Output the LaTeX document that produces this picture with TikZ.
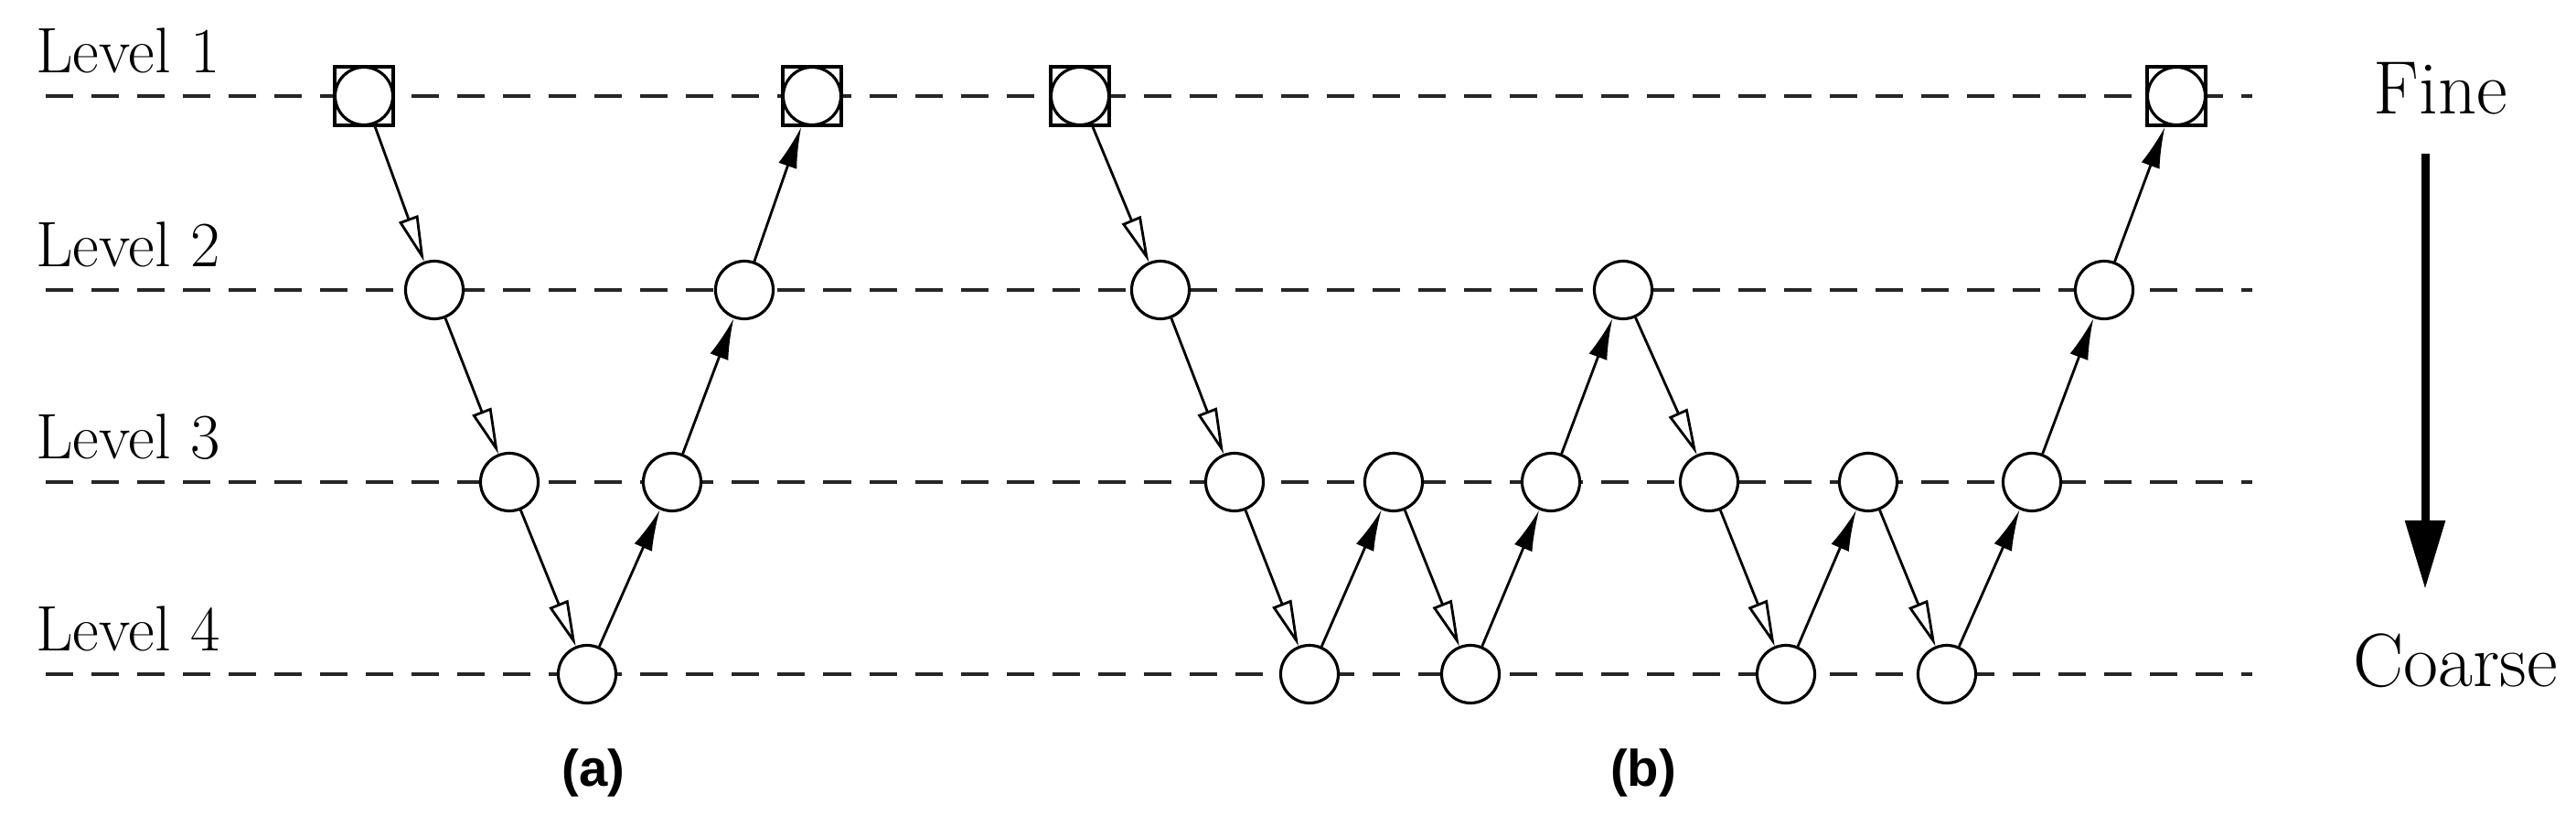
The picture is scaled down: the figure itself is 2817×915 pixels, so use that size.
\documentclass[tikz,border=0pt]{standalone}
\usepackage{fontspec}
\newfontfamily\hv{Liberation Sans}
\usetikzlibrary{arrows.meta}
\begin{document}
\begin{tikzpicture}[x=0.01cm,y=-0.01cm,
  lev/.style={dash pattern=on 0.3cm off 0.2cm, line width=1pt, draw=black!85},
  cir/.style={circle,draw,line width=0.9pt,minimum size=0.63cm,inner sep=0pt,fill=white},
  sq/.style={rectangle,draw,line width=1pt,minimum size=0.64cm,inner sep=0pt,fill=white},
  dn/.style={line width=0.8pt,-{Triangle[open,length=0.5cm,width=0.22cm]}},
  up/.style={line width=0.8pt,-{Latex[length=0.45cm,width=0.21cm]}},
  lbl/.style={font=\fontsize{20}{24}\selectfont,anchor=base west},
  big/.style={font=\fontsize{23.5}{28}\selectfont,anchor=base}]
\useasboundingbox (0,0) rectangle (2817,915);
% levels
\foreach \y/\b/\n in {105/79/1,317/291/2,527/501/3,737/711/4}{
  \coordinate (s\n) at (50,\y); \coordinate (e\n) at (2463,\y);
  \draw[lev] (s\n) -- (e\n);
  \node[lbl] (L\n) at (27,\b) {Level \n};
}
% (a)
\node[sq] (a1) at (398,105) {}; \node[cir] (a1c) at (a1) {};
\node[cir] (a2) at (475,317) {};
\node[cir] (a3) at (557,527) {};
\node[cir] (a4) at (642,737) {};
\node[cir] (a5) at (735,527) {};
\node[cir] (a6) at (814,317) {};
\node[sq] (a7) at (888,105) {}; \node[cir] (a7c) at (a7) {};
\draw[dn] (a1) -- (a2); \draw[dn] (a2) -- (a3); \draw[dn] (a3) -- (a4);
\draw[up] (a4) -- (a5); \draw[up] (a5) -- (a6); \draw[up] (a6) -- (a7);
% (b)
\node[sq] (b1) at (1181,105) {}; \node[cir] (b1c) at (b1) {};
\node[cir] (b2) at (1269,317) {};
\node[cir] (b3) at (1350,527) {};
\node[cir] (b4) at (1432,737) {};
\node[cir] (b5) at (1524,527) {};
\node[cir] (b6) at (1608,737) {};
\node[cir] (b7) at (1696,527) {};
\node[cir] (b8) at (1775,317) {};
\node[cir] (b9) at (1869,527) {};
\node[cir] (b10) at (1953,737) {};
\node[cir] (b11) at (2043,527) {};
\node[cir] (b12) at (2129,737) {};
\node[cir] (b13) at (2222,527) {};
\node[cir] (b14) at (2301,317) {};
\node[sq] (b15) at (2380,105) {}; \node[cir] (b15c) at (b15) {};
\draw[dn] (b1) -- (b2); \draw[dn] (b2) -- (b3); \draw[dn] (b3) -- (b4);
\draw[up] (b4) -- (b5); \draw[dn] (b5) -- (b6); \draw[up] (b6) -- (b7);
\draw[up] (b7) -- (b8); \draw[dn] (b8) -- (b9); \draw[dn] (b9) -- (b10);
\draw[up] (b10) -- (b11); \draw[dn] (b11) -- (b12); \draw[up] (b12) -- (b13);
\draw[up] (b13) -- (b14); \draw[up] (b14) -- (b15);
% captions
\node[font=\hv\bfseries\fontsize{16}{19}\selectfont] (ca) at (649,845) {(a)};
\node[font=\hv\bfseries\fontsize{16}{19}\selectfont] (cb) at (1797,845) {(b)};
% fine/coarse
\node[big] (fine) at (2669,124) {Fine};
\node[big] (coarse) at (2685,750) {Coarse};
\coordinate (ft) at (2652,168); \coordinate (fb) at (2652,644);
\draw[line width=0.09cm,-{Triangle[length=0.75cm,width=0.42cm]}] (ft) -- (fb);
\end{tikzpicture}
\end{document}
